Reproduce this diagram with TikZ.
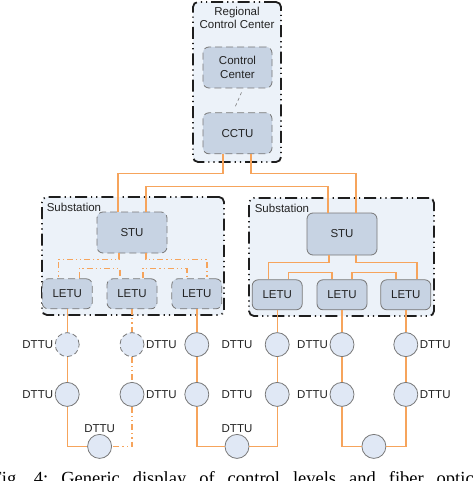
\documentclass[tikz,border=0pt]{standalone}
\usepackage{fontspec}
\setmainfont{Liberation Sans}
\newfontfamily\captionfont{Liberation Serif}
\usepackage{tikz}
\usetikzlibrary{positioning}
\usetikzlibrary{calc}

\definecolor{fiberOrange}{RGB}{246,164,92}
\definecolor{paleBlue}{RGB}{236,242,249}
\definecolor{unitBlue}{RGB}{199,211,227}
\definecolor{dttuBlue}{RGB}{224,232,245}
\definecolor{unitGray}{RGB}{120,120,120}
\definecolor{frameGray}{RGB}{30,30,30}
\definecolor{labelGray}{RGB}{35,35,35}

\tikzset{
	region/.style={draw=frameGray, fill=paleBlue, line width=1.8pt, rounded corners=5pt,
		dash pattern=on 12pt off 4pt on 1.2pt off 4pt on 1.2pt off 4pt},
	unit/.style={draw=unitGray, fill=unitBlue, line width=0.8pt, rounded corners=6pt,
		text=labelGray, font=\fontsize{11.5}{13.5}\selectfont},
	unitDown/.style={unit, dash pattern=on 7pt off 4pt},
	dttu/.style={circle, draw=unitGray, fill=dttuBlue, line width=0.8pt,
		minimum size=24pt, inner sep=0pt},
	dttuDown/.style={dttu, dash pattern=on 5pt off 3pt},
	tag/.style={text=labelGray, font=\fontsize{11.5}{13.5}\selectfont, inner sep=1.5pt},
	fiber/.style={draw=fiberOrange, line width=1.4pt},
	fiberDown/.style={fiber, dash pattern=on 6pt off 3pt on 1.2pt off 3pt on 1.2pt off 3pt}
}

\begin{document}
\begin{tikzpicture}[x=1pt, y=1pt]
\clip (0,0) rectangle (474,-481);

\node[
	region,
	minimum width=88pt,
	minimum height=160pt
] (rcc) at (237,-82) {};

\node[tag, align=center, below=4pt of rcc.north] (rccName) {Regional\\Control Center};

\node[
	unitDown,
	minimum width=69pt,
	minimum height=41pt,
	align=center
] (ctrlCenter) at (237.5,-67.5) {Control\\Center};

\node[
	unitDown,
	minimum width=69pt,
	minimum height=41pt,
	below=24pt of ctrlCenter
] (cctu) {CCTU};

% ---

\node[
	region,
	minimum width=182pt,
	minimum height=118pt
] (subLeft) at (133,-256) {};

\node[
	region,
	minimum width=185pt,
	minimum height=118pt
] (subRight) at (341.5,-257) {};

\node[tag, anchor=north west] (subLeftName) at ($(subLeft.north west)+(4,-5)$) {Substation};
\node[tag, anchor=north west] (subRightName) at ($(subRight.north west)+(5,-5)$) {Substation};

\node[
	unitDown,
	minimum width=70pt,
	minimum height=41pt
] (stuLeft) at (132,-232.5) {STU};

\node[
	unit,
	minimum width=70pt,
	minimum height=42pt
] (stuRight) at (342,-234) {STU};

\node[unitDown, minimum width=50pt, minimum height=30pt, below=25pt of stuLeft] (letuL2) {LETU};
\node[unitDown, minimum width=50pt, minimum height=30pt, left=14pt of letuL2] (letuL1) {LETU};
\node[unitDown, minimum width=50pt, minimum height=30pt, right=14pt of letuL2] (letuL3) {LETU};

\node[unit, minimum width=50pt, minimum height=30pt, below=24pt of stuRight] (letuR2) {LETU};
\node[unit, minimum width=50pt, minimum height=30pt, left=14pt of letuR2] (letuR1) {LETU};
\node[unit, minimum width=50pt, minimum height=30pt, right=13pt of letuR2] (letuR3) {LETU};

% ---

\node[dttuDown, below=23pt of letuL1, label={[tag]left:DTTU}] (dttuA1) {};
\node[dttu, below=25pt of dttuA1, label={[tag]left:DTTU}] (dttuA2) {};
\node[dttuDown, below=23pt of letuL2, label={[tag]right:DTTU}] (dttuB1) {};
\node[dttu, below=25pt of dttuB1, label={[tag]right:DTTU}] (dttuB2) {};
\node[dttu, below=23pt of letuL3] (dttuC1) {};
\node[dttu, below=25pt of dttuC1] (dttuC2) {};
\node[dttu, below=22pt of letuR1] (dttuD1) {};
\node[dttu, below=25pt of dttuD1] (dttuD2) {};
\node[dttu, below=22pt of letuR2, label={[tag]left:DTTU}] (dttuE1) {};
\node[dttu, below=25pt of dttuE1, label={[tag]left:DTTU}] (dttuE2) {};
\node[dttu, below=22pt of letuR3, label={[tag]right:DTTU}] (dttuF1) {};
\node[dttu, below=25pt of dttuF1, label={[tag]right:DTTU}] (dttuF2) {};

\node[tag] (tagCD1) at ($(dttuC1)!0.5!(dttuD1)$) {DTTU};
\node[tag] (tagCD2) at ($(dttuC2)!0.5!(dttuD2)$) {DTTU};

\node[dttu, label={[tag]above:DTTU}] (dttuAB) at ($(dttuA2)!0.5!(dttuB2)+(0,-52)$) {};
\node[dttu, label={[tag]above:DTTU}] (dttuCD) at ($(dttuC2)!0.5!(dttuD2)+(0,-52)$) {};
\node[dttu] (dttuEF) at ($(dttuE2)!0.5!(dttuF2)+(0,-52)$) {};

% ---

\draw[unitGray, line width=0.6pt, dash pattern=on 3pt off 3pt]
	($(ctrlCenter.south)+(4,-4)$) -- ($(cctu.north)+(-3,4)$);

\draw[fiber] ($(cctu.south)+(-14.5,0)$) -- ++(0,-19) -| ($(stuLeft.north)+(-14,0)$);
\draw[fiber] ($(cctu.south)+(13.5,0)$) -- ++(0,-19) -| ($(stuRight.north)+(14,0)$);
\draw[fiber] ($(stuLeft.north)+(14,0)$) -- ++(0,25) -| ($(stuRight.north)+(-14,0)$);

% ---

\draw[fiber] ($(stuRight.south)+(-13,0)$) -- ++(0,-7) -| ($(letuR1.north)+(-9,0)$);
\draw[fiber] ($(stuRight.south)+(14,0)$) -- ++(0,-7) -| ($(letuR3.north)+(11,0)$);
\draw[fiber] ($(letuR1.north)+(11,0)$) -- ++(0,7) -| ($(letuR2.north)+(-10,0)$);
\draw[fiber] ($(letuR2.north)+(10,0)$) -- ++(0,7) -| ($(letuR3.north)+(-10,0)$);

\draw[fiberDown] ($(stuLeft.south)+(-13,0)$) -- ++(0,-6) -| ($(letuL1.north)+(-9,0)$);
\draw[fiberDown] ($(stuLeft.south)+(14,0)$) -- ++(0,-6) -| ($(letuL3.north)+(10,0)$);
\draw[fiberDown] ($(letuL1.north)+(12,0)$) -- ++(0,10) -| ($(letuL2.north)+(-12,0)$);
\draw[fiberDown] ($(letuL2.north)+(11,0)$) -- ++(0,10) -| ($(letuL3.north)+(-10,0)$);

% ---

\draw[fiber] (letuL1) -- (dttuA1) -- (dttuA2) |- (dttuAB);
\draw[fiberDown] (letuL2) -- (dttuB1) -- (dttuB2) |- (dttuAB);
\draw[fiber] (letuL3) -- (dttuC1) -- (dttuC2) |- (dttuCD);
\draw[fiber] (letuR1) -- (dttuD1) -- (dttuD2) |- (dttuCD);
\draw[fiber] (letuR2) -- (dttuE1) -- (dttuE2) |- (dttuEF);
\draw[fiber] (letuR3) -- (dttuF1) -- (dttuF2) |- (dttuEF);

\node[anchor=base west, inner sep=0pt] (caption) at (-8.5,-484)
	{\captionfont\fontsize{18.5}{21}\selectfont\frenchspacing\makebox[482pt][s]{Fig. 4: Generic display of control levels and fiber optic}};

\end{tikzpicture}
\end{document}
